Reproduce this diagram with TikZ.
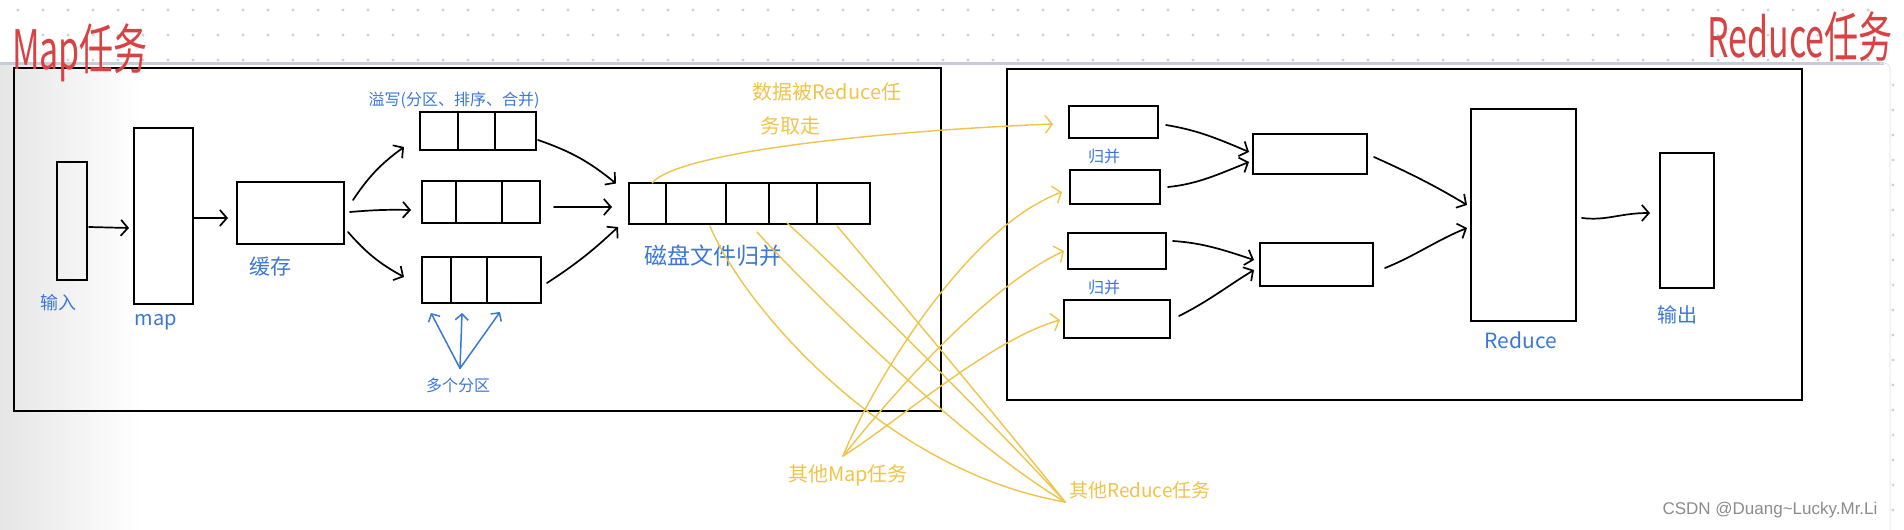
\documentclass[tikz,border=0pt]{standalone}
\usepackage{fontspec}
\setmainfont{Liberation Sans}
\newfontfamily\cjk{Noto Sans CJK SC}
\usetikzlibrary{arrows.meta,calc}
\definecolor{hblue}{RGB}{58,120,216}
\definecolor{hyellow}{RGB}{240,196,72}
\definecolor{hred}{RGB}{216,66,66}
\definecolor{dotgray}{RGB}{208,208,208}
\definecolor{linegray}{RGB}{200,204,214}
\tikzset{
  box/.style={draw=black, line width=2.6pt, inner sep=0pt, outer sep=0pt},
  arr/.style={draw=black, line width=1.7pt, line cap=round, line join=round,
     -{Straight Barb[length=7pt,width=16pt,line width=1.7pt]}},
  barr/.style={draw=hblue, line width=1.5pt, line cap=round,
     -{Straight Barb[length=6pt,width=13pt,line width=1.5pt]}},
  yline/.style={draw=hyellow, line width=1.4pt, line cap=round},
  yarr/.style={yline, -{Straight Barb[length=7pt,width=18pt,line width=1.4pt]}},
  blab/.style={text=hblue, inner sep=0pt, font=\cjk\fontsize{18}{20}\selectfont},
  ylab/.style={text=hyellow, inner sep=0pt, font=\cjk\fontsize{20}{22}\selectfont},
  rlab/.style={text=hred, inner sep=0pt, font=\cjk\fontsize{34}{36}\selectfont},
  divider/.style={draw=black, line width=2.4pt},
}
\begin{document}
\begin{tikzpicture}[x=1pt, y=-1pt]
% background
\useasboundingbox (0,0) rectangle (1904,530);
\fill[white] (0,0) rectangle (1904,530);
\shade[left color=black!10, right color=white] (0,64) rectangle (140,530);
\foreach \xx in {18,43,...,1868} \foreach \yy in {10,35,60} \fill[dotgray] (\xx,\yy) circle (1.6pt);
\foreach \yy in {85,110,...,520} \fill[dotgray] (1893,\yy) circle (1.6pt);
\draw[linegray, line width=3pt] (0,63) -- (1884,63);
\draw[black!9, line width=1pt, rounded corners=6pt] (1880,63) -- (1890,63) -- (1890,530);

% Map side
\node[box, minimum width=927pt, minimum height=343pt] (mapframe) at (477.5,239.5) {};
\node[box, minimum width=30pt, minimum height=118pt] (inp) at (72,221) {};
\node[box, minimum width=59pt, minimum height=176pt] (mapb) at (163.5,216) {};
\node[box, minimum width=107pt, minimum height=62pt] (cache) at (290.5,213) {};
\node[box, minimum width=116pt, minimum height=38pt] (sp1) at (478,131) {};
\node[box, minimum width=118pt, minimum height=42pt] (sp2) at (481,202) {};
\node[box, minimum width=119pt, minimum height=46pt] (sp3) at (481.5,280) {};
\node[box, minimum width=241pt, minimum height=41pt] (disk) at (749.5,203.5) {};
\foreach \nn/\dd in {sp1/38, sp1/75, sp2/34, sp2/80, sp3/29, sp3/65, disk/37, disk/97, disk/140, disk/188}
  \draw[divider] ([xshift=\dd pt]\nn.north west) -- ([xshift=\dd pt]\nn.south west);

\node[blab] (linp) at (58,303) {输入};
\node[blab, font=\cjk\fontsize{20}{22}\selectfont] (lmap) at (156,322) {map};
\node[blab, font=\cjk\fontsize{21}{22}\selectfont] (lcache) at (270,267) {缓存};
\node[blab, font=\cjk\fontsize{16}{18}\selectfont] (lspill) at (454,100) {溢写(分区、排序、合并)};
\node[blab, font=\cjk\fontsize{16}{18}\selectfont] (dq) at (458,385) {多个分区};
\node[blab, font=\cjk\fontsize{23}{25}\selectfont] (ldisk) at (713,256) {磁盘文件归并};

% Reduce side
\node[box, minimum width=795pt, minimum height=331pt] (redframe) at (1404.5,234.5) {};
\node[box, minimum width=89pt, minimum height=32pt] (r1) at (1113.5,122) {};
\node[box, minimum width=90pt, minimum height=34pt] (r2) at (1115,187) {};
\node[box, minimum width=98pt, minimum height=36pt] (r3) at (1117,251) {};
\node[box, minimum width=106pt, minimum height=38pt] (r4) at (1117,319) {};
\node[box, minimum width=114pt, minimum height=40pt] (m1) at (1310,154) {};
\node[box, minimum width=113pt, minimum height=43pt] (m2) at (1316.5,264.5) {};
\node[box, minimum width=105pt, minimum height=212pt] (redb) at (1523.5,215) {};
\node[box, minimum width=54pt, minimum height=135pt] (outb) at (1687,220.5) {};
\node[blab, font=\cjk\fontsize{16}{18}\selectfont] (lm1) at (1104,156) {归并};
\node[blab, font=\cjk\fontsize{16}{18}\selectfont] (lm2) at (1104,287) {归并};
\node[blab, font=\cjk\fontsize{21}{22}\selectfont] (lred) at (1521,340) {Reduce};
\node[blab, font=\cjk\fontsize{20}{22}\selectfont] (lout) at (1677,315) {输出};

% titles and watermark
\node[rlab] (tmap) at (80,53) {\scalebox{1}[1.6]{Map任务}};
\node[rlab] (tred) at (1800,37) {\scalebox{1}[1.6]{Reduce任务}};
\node[text=black!45, font=\fontsize{17}{19}\selectfont, inner sep=0pt] (wm) at (1770,510) {CSDN @Duang\textasciitilde Lucky.Mr.Li};

% yellow labels
\node[ylab, anchor=north west, align=left, font=\cjk\fontsize{20}{34}\selectfont] (ltake) at (752,82) {数据被Reduce任\\\hspace*{8pt}务取走};
\node[ylab] (omap) at (848,475) {其他Map任务};
\node[ylab, font=\cjk\fontsize{19}{21}\selectfont] (ored) at (1140,490) {其他Reduce任务};

% black connectors, Map side
\draw[arr] ($(inp.east)+(2,6)$) -- ($(mapb.west)+(-5,12)$);
\draw[arr] ($(mapb.east)+(1,2)$) -- ($(cache.west)+(-9,5)$);
\draw[arr] ($(cache.east)+(9,-13)$) to[bend left=10] ($(sp1.south west)+(-16,-3)$);
\draw[arr] ($(cache.east)+(6,-1)$) to[bend left=3] ($(sp2.west)+(-11,8)$);
\draw[arr] ($(cache.east)+(4,19)$) to[bend right=10] ($(sp3.west)+(-18,-3)$);
\draw[arr] ($(sp1.east)+(2,9)$) to[bend left=10] ($(disk.west)+(-13,-20)$);
\draw[arr] ($(sp2.east)+(14,5)$) -- ($(disk.west)+(-17,3.5)$);
\draw[arr] ($(sp3.east)+(6,3)$) to[bend right=5] ($(disk.west)+(-11,23.5)$);

% black connectors, Reduce side
\draw[arr] ($(r1.east)+(8,3)$) .. controls +(30,5) and +(-35,-15) .. ($(m1.west)+(-4,-2)$);
\draw[arr] ($(r2.east)+(8,0)$) .. controls +(30,-3) and +(-30,12) .. ($(m1.west)+(-4,8)$);
\draw[arr] ($(r3.east)+(7,-10)$) .. controls +(30,2) and +(-30,-10) .. ($(m2.west)+(-6,-4.5)$);
\draw[arr] ($(r4.east)+(9,-3)$) .. controls +(30,-15) and +(-25,15) .. ($(m2.west)+(-6,5.5)$);
\draw[arr] ($(m1.east)+(7,3)$) .. controls +(40,18) and +(-30,-18) .. ($(redb.west)+(-4,-10)$);
\draw[arr] ($(m2.east)+(12,3.5)$) .. controls +(30,-12) and +(-30,12) .. ($(redb.west)+(-4,13)$);
\draw[arr] ($(redb.east)+(6,3)$) .. controls +(25,3) and +(-30,0) .. ($(outb.west)+(-10,-7.5)$);

% blue arrows
\coordinate (dqs) at ($(dq.north)+(2,-9)$);
\draw[barr] (dqs) -- ($(sp3.south)+(-50.5,10)$);
\draw[barr] (dqs) -- ($(sp3.south)+(-19.5,10)$);
\draw[barr] (dqs) -- ($(sp3.south)+(18.5,9)$);

% yellow connectors
\draw[yarr] ($(disk.north west)+(23,0)$) .. controls (680,150) and (900,130) .. ($(r1.west)+(-16,2)$);
\coordinate (oms) at ($(omap.north)+(-5,-8)$);
\draw[yarr] (oms) .. controls (865,400) and (960,230) .. ($(r2.west)+(-8,5)$);
\draw[yarr] (oms) .. controls (880,410) and (980,290) .. ($(r3.west)+(-4,0)$);
\draw[yarr] (oms) .. controls (900,420) and (990,340) .. ($(r4.west)+(-4,1)$);
\coordinate (ors) at ($(ored.west)+(-4,12)$);
\draw[yline] ($(disk.south west)+(81,2)$) .. controls (740,300) and (880,470) .. (ors);
\draw[yline] ($(disk.south west)+(128,8)$) .. controls (800,280) and (960,440) .. (ors);
\draw[yline] ($(disk.south west)+(158,-1)$) .. controls (840,270) and (1000,430) .. (ors);
\draw[yline] ($(disk.south west)+(208,2)$) .. controls (870,265) and (1000,420) .. (ors);
\end{tikzpicture}
\end{document}
